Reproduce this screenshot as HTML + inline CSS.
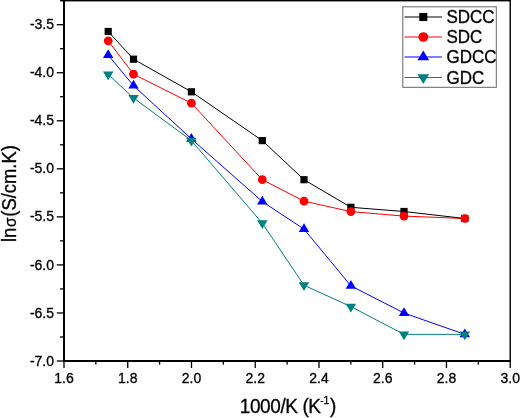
<!DOCTYPE html>
<html><head><meta charset="utf-8"><title>lnσ vs 1000/K</title>
<style>
html,body{margin:0;padding:0;background:#fff;}
body{width:520px;height:418px;overflow:hidden;}
svg{display:block;}
</style></head>
<body>
<svg width="520" height="418" viewBox="0 0 520 418">
<rect width="520" height="418" fill="#fff"/>
<rect x="63" y="0" width="2" height="362" fill="#000"/>
<rect x="60" y="0" width="451" height="1.4" fill="#000"/>
<rect x="509.5" y="0" width="1.4" height="362" fill="#000"/>
<rect x="63" y="360" width="448" height="2" fill="#000"/>
<rect x="56.8" y="24.05" width="6.2" height="1.3" fill="#000"/>
<rect x="60.0" y="48.07" width="3.0" height="1.3" fill="#000"/>
<rect x="56.8" y="72.09" width="6.2" height="1.3" fill="#000"/>
<rect x="60.0" y="96.11" width="3.0" height="1.3" fill="#000"/>
<rect x="56.8" y="120.14" width="6.2" height="1.3" fill="#000"/>
<rect x="60.0" y="144.16" width="3.0" height="1.3" fill="#000"/>
<rect x="56.8" y="168.18" width="6.2" height="1.3" fill="#000"/>
<rect x="60.0" y="192.20" width="3.0" height="1.3" fill="#000"/>
<rect x="56.8" y="216.22" width="6.2" height="1.3" fill="#000"/>
<rect x="60.0" y="240.24" width="3.0" height="1.3" fill="#000"/>
<rect x="56.8" y="264.26" width="6.2" height="1.3" fill="#000"/>
<rect x="60.0" y="288.29" width="3.0" height="1.3" fill="#000"/>
<rect x="56.8" y="312.31" width="6.2" height="1.3" fill="#000"/>
<rect x="60.0" y="336.33" width="3.0" height="1.3" fill="#000"/>
<rect x="56.8" y="360.35" width="6.2" height="1.3" fill="#000"/>
<rect x="63.35" y="362" width="1.3" height="6.0" fill="#000"/>
<rect x="95.22" y="362" width="1.3" height="2.6" fill="#000"/>
<rect x="127.09" y="362" width="1.3" height="6.0" fill="#000"/>
<rect x="158.96" y="362" width="1.3" height="2.6" fill="#000"/>
<rect x="190.84" y="362" width="1.3" height="6.0" fill="#000"/>
<rect x="222.71" y="362" width="1.3" height="2.6" fill="#000"/>
<rect x="254.58" y="362" width="1.3" height="6.0" fill="#000"/>
<rect x="286.45" y="362" width="1.3" height="2.6" fill="#000"/>
<rect x="318.32" y="362" width="1.3" height="6.0" fill="#000"/>
<rect x="350.19" y="362" width="1.3" height="2.6" fill="#000"/>
<rect x="382.06" y="362" width="1.3" height="6.0" fill="#000"/>
<rect x="413.94" y="362" width="1.3" height="2.6" fill="#000"/>
<rect x="445.81" y="362" width="1.3" height="6.0" fill="#000"/>
<rect x="477.68" y="362" width="1.3" height="2.6" fill="#000"/>
<rect x="509.55" y="362" width="1.3" height="6.0" fill="#000"/>
<g font-family="&apos;Liberation Sans&apos;, Arial, sans-serif" stroke="#000" stroke-width="0.3" fill="#000"><text transform="translate(54.00 29.30) scale(1.0 1.09)" font-size="14" text-anchor="end">-3.5</text><text transform="translate(54.00 77.34) scale(1.0 1.09)" font-size="14" text-anchor="end">-4.0</text><text transform="translate(54.00 125.39) scale(1.0 1.09)" font-size="14" text-anchor="end">-4.5</text><text transform="translate(54.00 173.43) scale(1.0 1.09)" font-size="14" text-anchor="end">-5.0</text><text transform="translate(54.00 221.47) scale(1.0 1.09)" font-size="14" text-anchor="end">-5.5</text><text transform="translate(54.00 269.51) scale(1.0 1.09)" font-size="14" text-anchor="end">-6.0</text><text transform="translate(54.00 317.56) scale(1.0 1.09)" font-size="14" text-anchor="end">-6.5</text><text transform="translate(54.00 365.60) scale(1.0 1.09)" font-size="14" text-anchor="end">-7.0</text><text transform="translate(64.00 382.80) scale(1.0 1.09)" font-size="14" text-anchor="middle">1.6</text><text transform="translate(127.74 382.80) scale(1.0 1.09)" font-size="14" text-anchor="middle">1.8</text><text transform="translate(191.49 382.80) scale(1.0 1.09)" font-size="14" text-anchor="middle">2.0</text><text transform="translate(255.23 382.80) scale(1.0 1.09)" font-size="14" text-anchor="middle">2.2</text><text transform="translate(318.97 382.80) scale(1.0 1.09)" font-size="14" text-anchor="middle">2.4</text><text transform="translate(382.71 382.80) scale(1.0 1.09)" font-size="14" text-anchor="middle">2.6</text><text transform="translate(446.46 382.80) scale(1.0 1.09)" font-size="14" text-anchor="middle">2.8</text><text transform="translate(510.20 382.80) scale(1.0 1.09)" font-size="14" text-anchor="middle">3.0</text></g>
<g font-family="&apos;Liberation Sans&apos;, Arial, sans-serif" stroke="#000" stroke-width="0.3" fill="#000">
<text transform="translate(239.8 413.3) scale(1 1.03)" font-size="19" letter-spacing="-0.4">1000/K (K<tspan font-size="10.5" dx="-0.3" dy="-9.4">-1</tspan><tspan dx="1.2" dy="9.4">)</tspan></text>
<text transform="translate(15.60 242.00) rotate(-90) scale(1.0 1.05)" font-size="18.4">ln<tspan font-size="15.5" dx="0.6">&#963;</tspan><tspan dx="0.8">(S/cm.K)</tspan></text>
</g>
<polyline points="108.20,74.35 133.50,97.95 191.40,140.60 262.30,223.25 304.00,285.25 350.90,306.65 404.00,334.35 464.80,334.35" fill="none" stroke="#008080" stroke-width="1.0"/>
<polyline points="108.20,55.15 133.50,85.65 191.40,138.90 262.30,201.55 304.00,229.15 350.90,285.85 404.00,313.05 464.80,334.35" fill="none" stroke="#0000ff" stroke-width="1.0"/>
<polyline points="108.20,40.80 133.50,74.20 191.40,103.20 262.30,179.70 304.00,201.20 350.90,211.60 404.00,216.10 464.80,218.50" fill="none" stroke="#ff0000" stroke-width="1.0"/>
<polyline points="108.20,31.50 133.50,59.20 191.40,91.80 262.30,140.60 304.00,179.70 350.90,207.30 404.00,211.50 464.80,218.50" fill="none" stroke="#000000" stroke-width="1.0"/>
<rect x="104.60" y="27.90" width="7.2" height="7.2" fill="#000000"/><rect x="129.90" y="55.60" width="7.2" height="7.2" fill="#000000"/><rect x="187.80" y="88.20" width="7.2" height="7.2" fill="#000000"/><rect x="258.70" y="137.00" width="7.2" height="7.2" fill="#000000"/><rect x="300.40" y="176.10" width="7.2" height="7.2" fill="#000000"/><rect x="347.30" y="203.70" width="7.2" height="7.2" fill="#000000"/><rect x="400.40" y="207.90" width="7.2" height="7.2" fill="#000000"/><rect x="461.20" y="214.90" width="7.2" height="7.2" fill="#000000"/>
<circle cx="108.20" cy="40.80" r="4.35" fill="#ff0000"/><circle cx="133.50" cy="74.20" r="4.35" fill="#ff0000"/><circle cx="191.40" cy="103.20" r="4.35" fill="#ff0000"/><circle cx="262.30" cy="179.70" r="4.35" fill="#ff0000"/><circle cx="304.00" cy="201.20" r="4.35" fill="#ff0000"/><circle cx="350.90" cy="211.60" r="4.35" fill="#ff0000"/><circle cx="404.00" cy="216.10" r="4.35" fill="#ff0000"/><circle cx="464.80" cy="218.50" r="4.35" fill="#ff0000"/>
<polygon points="108.20,49.28 113.40,58.08 103.00,58.08" fill="#0000ff"/><polygon points="133.50,79.78 138.70,88.58 128.30,88.58" fill="#0000ff"/><polygon points="191.40,133.03 196.60,141.83 186.20,141.83" fill="#0000ff"/><polygon points="262.30,195.68 267.50,204.48 257.10,204.48" fill="#0000ff"/><polygon points="304.00,223.28 309.20,232.08 298.80,232.08" fill="#0000ff"/><polygon points="350.90,279.98 356.10,288.78 345.70,288.78" fill="#0000ff"/><polygon points="404.00,307.18 409.20,315.98 398.80,315.98" fill="#0000ff"/><polygon points="464.80,328.48 470.00,337.28 459.60,337.28" fill="#0000ff"/>
<polygon points="103.00,71.42 113.40,71.42 108.20,80.22" fill="#008080"/><polygon points="128.30,95.02 138.70,95.02 133.50,103.82" fill="#008080"/><polygon points="186.20,137.67 196.60,137.67 191.40,146.47" fill="#008080"/><polygon points="257.10,220.32 267.50,220.32 262.30,229.12" fill="#008080"/><polygon points="298.80,282.32 309.20,282.32 304.00,291.12" fill="#008080"/><polygon points="345.70,303.72 356.10,303.72 350.90,312.52" fill="#008080"/><polygon points="398.80,331.42 409.20,331.42 404.00,340.22" fill="#008080"/><polygon points="459.60,331.42 470.00,331.42 464.80,340.22" fill="#008080"/>
<rect x="402.8" y="6.8" width="93.5" height="80.5" fill="#fff" stroke="#666" stroke-width="1"/>
<line x1="404.5" y1="17.0" x2="442" y2="17.0" stroke="#000000" stroke-width="1.0"/>
<rect x="419.27" y="12.97" width="8.064000000000002" height="8.064000000000002" fill="#000000"/>
<g font-family="&apos;Liberation Sans&apos;, Arial, sans-serif" stroke="#000" stroke-width="0.3" fill="#000"><text transform="translate(446.50 23.20) scale(1.0 1.12)" font-size="17">SDCC</text></g>
<line x1="404.5" y1="37.0" x2="442" y2="37.0" stroke="#ff0000" stroke-width="1.0"/>
<circle cx="423.30" cy="37.00" r="4.872" fill="#ff0000"/>
<g font-family="&apos;Liberation Sans&apos;, Arial, sans-serif" stroke="#000" stroke-width="0.3" fill="#000"><text transform="translate(446.50 43.20) scale(1.0 1.12)" font-size="17">SDC</text></g>
<line x1="404.5" y1="57.0" x2="442" y2="57.0" stroke="#0000ff" stroke-width="1.0"/>
<polygon points="423.30,50.43 429.12,60.29 417.48,60.29" fill="#0000ff"/>
<g font-family="&apos;Liberation Sans&apos;, Arial, sans-serif" stroke="#000" stroke-width="0.3" fill="#000"><text transform="translate(446.50 63.20) scale(1.0 1.12)" font-size="17">GDCC</text></g>
<line x1="404.5" y1="77.5" x2="442" y2="77.5" stroke="#008080" stroke-width="1.0"/>
<polygon points="417.48,74.21 429.12,74.21 423.30,84.07" fill="#008080"/>
<g font-family="&apos;Liberation Sans&apos;, Arial, sans-serif" stroke="#000" stroke-width="0.3" fill="#000"><text transform="translate(446.50 83.70) scale(1.0 1.12)" font-size="17">GDC</text></g>
</svg>
</body></html>
